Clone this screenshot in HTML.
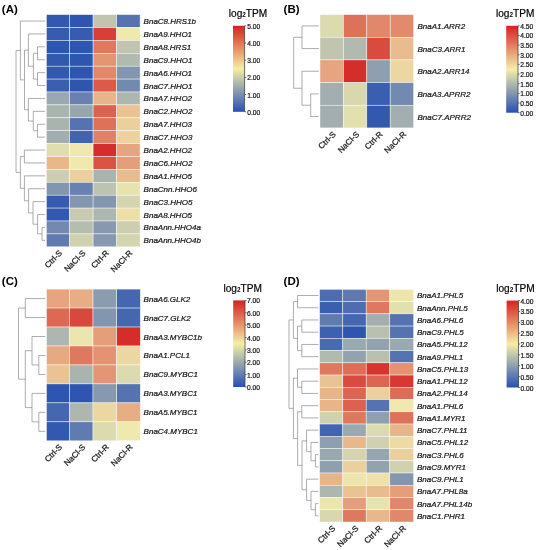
<!DOCTYPE html>
<html lang="en"><head><meta charset="utf-8"><title>Heatmaps</title>
<style>
html,body{margin:0;padding:0;background:#fff}
body{width:540px;height:550px;overflow:hidden}
svg{display:block;font-family:"Liberation Sans",sans-serif}
.tag{font-weight:bold;font-size:11.5px;fill:#000}
.rl text{font-style:italic;font-size:8px;fill:#111;stroke:#111;stroke-width:.2}
.xl text{font-size:8.2px;fill:#111;stroke:#111;stroke-width:.2}
.tk text{font-size:6.7px;fill:#111;stroke:#111;stroke-width:.2}
.ttl{font-size:10.1px;fill:#000;stroke:#000;stroke-width:.2}
.sub{font-size:6.4px;font-weight:bold;stroke:none}
.cells rect{stroke:#fff;stroke-opacity:.8;stroke-width:.55}
.dn{fill:none;stroke:#808080;stroke-width:.65}
.ax{fill:none;stroke:#333;stroke-width:.7}
</style></head><body>
<svg width="540" height="550" viewBox="0 0 540 550">
<defs>
<linearGradient id="gA" x1="0" y1="0" x2="0" y2="1"><stop offset="0" stop-color="#d62222"/><stop offset="0.5" stop-color="#f4eea6"/><stop offset="1" stop-color="#2650b6"/></linearGradient>
<linearGradient id="gB" x1="0" y1="0" x2="0" y2="1"><stop offset="0" stop-color="#d62222"/><stop offset="0.5" stop-color="#f4eea6"/><stop offset="1" stop-color="#2650b6"/></linearGradient>
<linearGradient id="gC" x1="0" y1="0" x2="0" y2="1"><stop offset="0" stop-color="#d62222"/><stop offset="0.5" stop-color="#f4eea6"/><stop offset="1" stop-color="#2650b6"/></linearGradient>
<linearGradient id="gD" x1="0" y1="0" x2="0" y2="1"><stop offset="0" stop-color="#d62222"/><stop offset="0.5" stop-color="#f4eea6"/><stop offset="1" stop-color="#2650b6"/></linearGradient>
</defs>
<rect width="540" height="550" fill="#fff"/>
<g id="panelA">
<text x="1.8" y="12.6" class="tag">(A)</text>
<g class="cells">
<rect x="46.40" y="14.60" width="23.20" height="12.90" fill="#3258b0"/>
<rect x="69.60" y="14.60" width="23.50" height="12.90" fill="#2e55b0"/>
<rect x="93.10" y="14.60" width="23.50" height="12.90" fill="#c1c5af"/>
<rect x="116.60" y="14.60" width="23.50" height="12.90" fill="#5573b0"/>
<rect x="46.40" y="27.50" width="23.20" height="12.90" fill="#365bb0"/>
<rect x="69.60" y="27.50" width="23.50" height="12.90" fill="#365bb0"/>
<rect x="93.10" y="27.50" width="23.50" height="12.90" fill="#d84037"/>
<rect x="116.60" y="27.50" width="23.50" height="12.90" fill="#efe9af"/>
<rect x="46.40" y="40.40" width="23.20" height="12.90" fill="#2e55b0"/>
<rect x="69.60" y="40.40" width="23.50" height="12.90" fill="#2e55b0"/>
<rect x="93.10" y="40.40" width="23.50" height="12.90" fill="#df785f"/>
<rect x="116.60" y="40.40" width="23.50" height="12.90" fill="#c1c5af"/>
<rect x="46.40" y="53.30" width="23.20" height="12.90" fill="#3258b0"/>
<rect x="69.60" y="53.30" width="23.50" height="12.90" fill="#2e55b0"/>
<rect x="93.10" y="53.30" width="23.50" height="12.90" fill="#e49674"/>
<rect x="116.60" y="53.30" width="23.50" height="12.90" fill="#b1baaf"/>
<rect x="46.40" y="66.20" width="23.20" height="12.90" fill="#3258b0"/>
<rect x="69.60" y="66.20" width="23.50" height="12.90" fill="#2e55b0"/>
<rect x="93.10" y="66.20" width="23.50" height="12.90" fill="#e1876a"/>
<rect x="116.60" y="66.20" width="23.50" height="12.90" fill="#8396b0"/>
<rect x="46.40" y="79.10" width="23.20" height="12.90" fill="#3a5eb0"/>
<rect x="69.60" y="79.10" width="23.50" height="12.90" fill="#2e55b0"/>
<rect x="93.10" y="79.10" width="23.50" height="12.90" fill="#db5a4a"/>
<rect x="116.60" y="79.10" width="23.50" height="12.90" fill="#738ab0"/>
<rect x="46.40" y="92.00" width="23.20" height="12.90" fill="#9aa8af"/>
<rect x="69.60" y="92.00" width="23.50" height="12.90" fill="#6881b0"/>
<rect x="93.10" y="92.00" width="23.50" height="12.90" fill="#e8b48a"/>
<rect x="116.60" y="92.00" width="23.50" height="12.90" fill="#adb7af"/>
<rect x="46.40" y="104.90" width="23.20" height="12.90" fill="#aab4af"/>
<rect x="69.60" y="104.90" width="23.50" height="12.90" fill="#96a5af"/>
<rect x="93.10" y="104.90" width="23.50" height="12.90" fill="#dc624f"/>
<rect x="116.60" y="104.90" width="23.50" height="12.90" fill="#eac394"/>
<rect x="46.40" y="117.80" width="23.20" height="12.90" fill="#aab4af"/>
<rect x="69.60" y="117.80" width="23.50" height="12.90" fill="#5573b0"/>
<rect x="93.10" y="117.80" width="23.50" height="12.90" fill="#de715a"/>
<rect x="116.60" y="117.80" width="23.50" height="12.90" fill="#ebcf9c"/>
<rect x="46.40" y="130.70" width="23.20" height="12.90" fill="#a2aeaf"/>
<rect x="69.60" y="130.70" width="23.50" height="12.90" fill="#4164b0"/>
<rect x="93.10" y="130.70" width="23.50" height="12.90" fill="#e08065"/>
<rect x="116.60" y="130.70" width="23.50" height="12.90" fill="#ecd29f"/>
<rect x="46.40" y="143.60" width="23.20" height="12.90" fill="#e0ddaf"/>
<rect x="69.60" y="143.60" width="23.50" height="12.90" fill="#efe9af"/>
<rect x="93.10" y="143.60" width="23.50" height="12.90" fill="#d52d2a"/>
<rect x="116.60" y="143.60" width="23.50" height="12.90" fill="#e6a57f"/>
<rect x="46.40" y="156.50" width="23.20" height="12.90" fill="#e8b88c"/>
<rect x="69.60" y="156.50" width="23.50" height="12.90" fill="#efe9af"/>
<rect x="93.10" y="156.50" width="23.50" height="12.90" fill="#da5345"/>
<rect x="116.60" y="156.50" width="23.50" height="12.90" fill="#e59e7a"/>
<rect x="46.40" y="169.40" width="23.20" height="12.90" fill="#ccceaf"/>
<rect x="69.60" y="169.40" width="23.50" height="12.90" fill="#ebcf9c"/>
<rect x="93.10" y="169.40" width="23.50" height="12.90" fill="#aab4af"/>
<rect x="116.60" y="169.40" width="23.50" height="12.90" fill="#e9bc8f"/>
<rect x="46.40" y="182.30" width="23.20" height="12.90" fill="#8396b0"/>
<rect x="69.60" y="182.30" width="23.50" height="12.90" fill="#6881b0"/>
<rect x="93.10" y="182.30" width="23.50" height="12.90" fill="#bdc3af"/>
<rect x="116.60" y="182.30" width="23.50" height="12.90" fill="#e7e3af"/>
<rect x="46.40" y="195.20" width="23.20" height="12.90" fill="#365bb0"/>
<rect x="69.60" y="195.20" width="23.50" height="12.90" fill="#8396b0"/>
<rect x="93.10" y="195.20" width="23.50" height="12.90" fill="#8396b0"/>
<rect x="116.60" y="195.20" width="23.50" height="12.90" fill="#d4d4af"/>
<rect x="46.40" y="208.10" width="23.20" height="12.90" fill="#3258b0"/>
<rect x="69.60" y="208.10" width="23.50" height="12.90" fill="#c8cbaf"/>
<rect x="93.10" y="208.10" width="23.50" height="12.90" fill="#adb7af"/>
<rect x="116.60" y="208.10" width="23.50" height="12.90" fill="#eddea7"/>
<rect x="46.40" y="221.00" width="23.20" height="12.90" fill="#738ab0"/>
<rect x="69.60" y="221.00" width="23.50" height="12.90" fill="#b5bdaf"/>
<rect x="93.10" y="221.00" width="23.50" height="12.90" fill="#8799b0"/>
<rect x="116.60" y="221.00" width="23.50" height="12.90" fill="#ccceaf"/>
<rect x="46.40" y="233.90" width="23.20" height="12.90" fill="#607bb0"/>
<rect x="69.60" y="233.90" width="23.50" height="12.90" fill="#d0d1af"/>
<rect x="93.10" y="233.90" width="23.50" height="12.90" fill="#8799b0"/>
<rect x="116.60" y="233.90" width="23.50" height="12.90" fill="#d4d4af"/>
</g>
<g class="rl">
<text x="143.6" y="24.05">BnaC8.HRS1b</text>
<text x="143.6" y="36.95">BnaA9.HHO1</text>
<text x="143.6" y="49.85">BnaA8.HRS1</text>
<text x="143.6" y="62.75">BnaC9.HHO1</text>
<text x="143.6" y="75.65">BnaA6.HHO1</text>
<text x="143.6" y="88.55">BnaC7.HHO1</text>
<text x="143.6" y="101.45">BnaA7.HHO2</text>
<text x="143.6" y="114.35">BnaC2.HHO2</text>
<text x="143.6" y="127.25">BnaA7.HHO3</text>
<text x="143.6" y="140.15">BnaC7.HHO3</text>
<text x="143.6" y="153.05">BnaA2.HHO2</text>
<text x="143.6" y="165.95">BnaC6.HHO2</text>
<text x="143.6" y="178.85">BnaA1.HHO5</text>
<text x="143.6" y="191.75">BnaCnn.HHO6</text>
<text x="143.6" y="204.65">BnaC3.HHO5</text>
<text x="143.6" y="217.55">BnaA8.HHO5</text>
<text x="143.6" y="230.45">BnaAnn.HHO4a</text>
<text x="143.6" y="243.35">BnaAnn.HHO4b</text>
</g>
<g class="xl">
<text transform="translate(58.80 249.80) rotate(-45)" x="0" y="5.5" text-anchor="end">Ctrl-S</text>
<text transform="translate(82.15 249.80) rotate(-45)" x="0" y="5.5" text-anchor="end">NaCl-S</text>
<text transform="translate(105.65 249.80) rotate(-45)" x="0" y="5.5" text-anchor="end">Ctrl-R</text>
<text transform="translate(129.15 249.80) rotate(-45)" x="0" y="5.5" text-anchor="end">NaCl-R</text>
</g>
<path class="dn" d="M45.10 46.85H37.50V59.75H45.10M45.10 72.65H37.50V85.55H45.10M37.50 53.30H33.40V79.10H37.50M45.10 33.95H28.40V66.20H33.40M45.10 124.25H37.50V137.15H45.10M45.10 111.35H33.30V130.70H37.50M45.10 98.45H28.40V121.02H33.30M28.40 50.07H24.50V109.74H28.40M45.10 21.05H20.40V79.91H24.50M45.10 150.05H24.40V162.95H45.10M45.10 227.45H42.00V240.35H45.10M45.10 214.55H37.60V233.90H42.00M45.10 201.65H33.00V224.22H37.60M45.10 188.75H28.60V212.94H33.00M45.10 175.85H24.40V200.84H28.60M24.40 156.50H20.40V188.35H24.40M20.40 50.48H16.00V172.42H20.40"/>
<rect x="233" y="25.8" width="11.60" height="86.00" fill="url(#gA)"/>
<g class="tk">
<text x="247.3" y="28.80">5.00</text>
<text x="247.3" y="46.00">4.00</text>
<text x="247.3" y="63.20">3.00</text>
<text x="247.3" y="80.40">2.00</text>
<text x="247.3" y="97.60">1.00</text>
<text x="247.3" y="114.80">0.00</text>
</g>
<path class="ax" d="M244.6 25.8V111.8M244.6 25.80h1.6M244.6 43.00h1.6M244.6 60.20h1.6M244.6 77.40h1.6M244.6 94.60h1.6M244.6 111.80h1.6"/>
<text class="ttl" x="228.8" y="16.7">log<tspan class="sub">2</tspan>TPM</text>
</g>
<g id="panelB">
<text x="283.6" y="12.5" class="tag">(B)</text>
<g class="cells">
<rect x="320.00" y="14.60" width="23.40" height="22.66" fill="#dcdaaf"/>
<rect x="343.40" y="14.60" width="23.40" height="22.66" fill="#de715a"/>
<rect x="366.80" y="14.60" width="23.40" height="22.66" fill="#e1876a"/>
<rect x="390.20" y="14.60" width="23.40" height="22.66" fill="#e28b6c"/>
<rect x="320.00" y="37.26" width="23.40" height="22.66" fill="#c1c5af"/>
<rect x="343.40" y="37.26" width="23.40" height="22.66" fill="#b1baaf"/>
<rect x="366.80" y="37.26" width="23.40" height="22.66" fill="#d94b3f"/>
<rect x="390.20" y="37.26" width="23.40" height="22.66" fill="#e9bc8f"/>
<rect x="320.00" y="59.92" width="23.40" height="22.66" fill="#e6a57f"/>
<rect x="343.40" y="59.92" width="23.40" height="22.66" fill="#d52d2a"/>
<rect x="366.80" y="59.92" width="23.40" height="22.66" fill="#8e9fb0"/>
<rect x="390.20" y="59.92" width="23.40" height="22.66" fill="#ecd6a2"/>
<rect x="320.00" y="82.58" width="23.40" height="22.66" fill="#a2aeaf"/>
<rect x="343.40" y="82.58" width="23.40" height="22.66" fill="#d8d7af"/>
<rect x="366.80" y="82.58" width="23.40" height="22.66" fill="#3a5eb0"/>
<rect x="390.20" y="82.58" width="23.40" height="22.66" fill="#738ab0"/>
<rect x="320.00" y="105.24" width="23.40" height="22.66" fill="#a2aeaf"/>
<rect x="343.40" y="105.24" width="23.40" height="22.66" fill="#e3e0af"/>
<rect x="366.80" y="105.24" width="23.40" height="22.66" fill="#3258b0"/>
<rect x="390.20" y="105.24" width="23.40" height="22.66" fill="#a2aeaf"/>
</g>
<g class="rl">
<text x="417.5" y="28.93">BnaA1.ARR2</text>
<text x="417.5" y="51.59">BnaC3.ARR1</text>
<text x="417.5" y="74.25">BnaA2.ARR14</text>
<text x="417.5" y="96.91">BnaA3.APRR2</text>
<text x="417.5" y="119.57">BnaC7.APRR2</text>
</g>
<g class="xl">
<text transform="translate(332.50 130.90) rotate(-45)" x="0" y="5.5" text-anchor="end">Ctrl-S</text>
<text transform="translate(355.90 130.90) rotate(-45)" x="0" y="5.5" text-anchor="end">NaCl-S</text>
<text transform="translate(379.30 130.90) rotate(-45)" x="0" y="5.5" text-anchor="end">Ctrl-R</text>
<text transform="translate(402.70 130.90) rotate(-45)" x="0" y="5.5" text-anchor="end">NaCl-R</text>
</g>
<path class="dn" d="M318.80 25.93H302.00V48.59H318.80M318.80 93.91H310.70V116.57H318.80M318.80 71.25H302.00V105.24H310.70M302.00 37.26H293.70V88.25H302.00"/>
<rect x="506.2" y="25.8" width="11.80" height="86.90" fill="url(#gB)"/>
<g class="tk">
<text x="520.2" y="28.80">4.50</text>
<text x="520.2" y="38.46">4.00</text>
<text x="520.2" y="48.11">3.50</text>
<text x="520.2" y="57.77">3.00</text>
<text x="520.2" y="67.42">2.50</text>
<text x="520.2" y="77.08">2.00</text>
<text x="520.2" y="86.73">1.50</text>
<text x="520.2" y="96.39">1.00</text>
<text x="520.2" y="106.04">0.50</text>
<text x="520.2" y="115.70">0.00</text>
</g>
<path class="ax" d="M518 25.8V112.7M518 25.80h1.6M518 35.46h1.6M518 45.11h1.6M518 54.77h1.6M518 64.42h1.6M518 74.08h1.6M518 83.73h1.6M518 93.39h1.6M518 103.04h1.6M518 112.70h1.6"/>
<text class="ttl" x="496" y="16.7">log<tspan class="sub">2</tspan>TPM</text>
</g>
<g id="panelC">
<text x="1.8" y="284.8" class="tag">(C)</text>
<g class="cells">
<rect x="46.50" y="289.10" width="23.00" height="18.96" fill="#e6a57f"/>
<rect x="69.50" y="289.10" width="23.50" height="18.96" fill="#e7ad84"/>
<rect x="93.00" y="289.10" width="23.70" height="18.96" fill="#8b9cb0"/>
<rect x="116.70" y="289.10" width="23.60" height="18.96" fill="#4567b0"/>
<rect x="46.50" y="308.06" width="23.00" height="18.96" fill="#dd6955"/>
<rect x="69.50" y="308.06" width="23.50" height="18.96" fill="#d9473d"/>
<rect x="93.00" y="308.06" width="23.70" height="18.96" fill="#8396b0"/>
<rect x="116.70" y="308.06" width="23.60" height="18.96" fill="#4567b0"/>
<rect x="46.50" y="327.03" width="23.00" height="18.96" fill="#adb7af"/>
<rect x="69.50" y="327.03" width="23.50" height="18.96" fill="#ebe6af"/>
<rect x="93.00" y="327.03" width="23.70" height="18.96" fill="#e59e7a"/>
<rect x="116.70" y="327.03" width="23.60" height="18.96" fill="#d52d2a"/>
<rect x="46.50" y="345.99" width="23.00" height="18.96" fill="#e6a982"/>
<rect x="69.50" y="345.99" width="23.50" height="18.96" fill="#df785f"/>
<rect x="93.00" y="345.99" width="23.70" height="18.96" fill="#e39372"/>
<rect x="116.70" y="345.99" width="23.60" height="18.96" fill="#ecd6a2"/>
<rect x="46.50" y="364.95" width="23.00" height="18.96" fill="#eac394"/>
<rect x="69.50" y="364.95" width="23.50" height="18.96" fill="#aab4af"/>
<rect x="93.00" y="364.95" width="23.70" height="18.96" fill="#e49674"/>
<rect x="116.70" y="364.95" width="23.60" height="18.96" fill="#dcdaaf"/>
<rect x="46.50" y="383.91" width="23.00" height="18.96" fill="#2e55b0"/>
<rect x="69.50" y="383.91" width="23.50" height="18.96" fill="#2e55b0"/>
<rect x="93.00" y="383.91" width="23.70" height="18.96" fill="#8799b0"/>
<rect x="116.70" y="383.91" width="23.60" height="18.96" fill="#5573b0"/>
<rect x="46.50" y="402.88" width="23.00" height="18.96" fill="#4567b0"/>
<rect x="69.50" y="402.88" width="23.50" height="18.96" fill="#adb7af"/>
<rect x="93.00" y="402.88" width="23.70" height="18.96" fill="#ecd6a2"/>
<rect x="116.70" y="402.88" width="23.60" height="18.96" fill="#e7ad84"/>
<rect x="46.50" y="421.84" width="23.00" height="18.96" fill="#3258b0"/>
<rect x="69.50" y="421.84" width="23.50" height="18.96" fill="#607bb0"/>
<rect x="93.00" y="421.84" width="23.70" height="18.96" fill="#dcdaaf"/>
<rect x="116.70" y="421.84" width="23.60" height="18.96" fill="#efe9af"/>
</g>
<g class="rl">
<text x="143.6" y="301.58">BnaA6.GLK2</text>
<text x="143.6" y="320.54">BnaC7.GLK2</text>
<text x="143.6" y="339.51">BnaA3.MYBC1b</text>
<text x="143.6" y="358.47">BnaA1.PCL1</text>
<text x="143.6" y="377.43">BnaC9.MYBC1</text>
<text x="143.6" y="396.39">BnaA3.MYBC1</text>
<text x="143.6" y="415.36">BnaA5.MYBC1</text>
<text x="143.6" y="434.32">BnaC4.MYBC1</text>
</g>
<g class="xl">
<text transform="translate(58.80 443.80) rotate(-45)" x="0" y="5.5" text-anchor="end">Ctrl-S</text>
<text transform="translate(82.05 443.80) rotate(-45)" x="0" y="5.5" text-anchor="end">NaCl-S</text>
<text transform="translate(105.65 443.80) rotate(-45)" x="0" y="5.5" text-anchor="end">Ctrl-R</text>
<text transform="translate(129.30 443.80) rotate(-45)" x="0" y="5.5" text-anchor="end">NaCl-R</text>
</g>
<path class="dn" d="M45.30 298.58H25.30V317.54H45.30M45.30 355.47H38.80V374.43H45.30M45.30 336.51H32.00V364.95H38.80M45.30 412.36H38.80V431.32H45.30M45.30 393.39H32.00V421.84H38.80M32.00 350.73H25.30V407.62H32.00M25.30 308.06H18.50V379.17H25.30"/>
<rect x="233.2" y="300.4" width="11.80" height="86.60" fill="url(#gC)"/>
<g class="tk">
<text x="247" y="303.40">7.00</text>
<text x="247" y="315.77">6.00</text>
<text x="247" y="328.14">5.00</text>
<text x="247" y="340.51">4.00</text>
<text x="247" y="352.89">3.00</text>
<text x="247" y="365.26">2.00</text>
<text x="247" y="377.63">1.00</text>
<text x="247" y="390.00">0.00</text>
</g>
<path class="ax" d="M245 300.4V387M245 300.40h1.6M245 312.77h1.6M245 325.14h1.6M245 337.51h1.6M245 349.89h1.6M245 362.26h1.6M245 374.63h1.6M245 387.00h1.6"/>
<text class="ttl" x="223.5" y="291.5">log<tspan class="sub">2</tspan>TPM</text>
</g>
<g id="panelD">
<text x="283.6" y="284.8" class="tag">(D)</text>
<g class="cells">
<rect x="319.60" y="289.35" width="23.20" height="12.24" fill="#4d6db0"/>
<rect x="342.80" y="289.35" width="23.40" height="12.24" fill="#5c79b0"/>
<rect x="366.20" y="289.35" width="23.60" height="12.24" fill="#e49674"/>
<rect x="389.80" y="289.35" width="23.80" height="12.24" fill="#eee5ac"/>
<rect x="319.60" y="301.59" width="23.20" height="12.24" fill="#3a5eb0"/>
<rect x="342.80" y="301.59" width="23.40" height="12.24" fill="#4d6db0"/>
<rect x="366.20" y="301.59" width="23.60" height="12.24" fill="#df785f"/>
<rect x="389.80" y="301.59" width="23.80" height="12.24" fill="#e3e0af"/>
<rect x="319.60" y="313.84" width="23.20" height="12.24" fill="#607bb0"/>
<rect x="342.80" y="313.84" width="23.40" height="12.24" fill="#4567b0"/>
<rect x="366.20" y="313.84" width="23.60" height="12.24" fill="#a2aeaf"/>
<rect x="389.80" y="313.84" width="23.80" height="12.24" fill="#5573b0"/>
<rect x="319.60" y="326.08" width="23.20" height="12.24" fill="#3d61b0"/>
<rect x="342.80" y="326.08" width="23.40" height="12.24" fill="#2e55b0"/>
<rect x="366.20" y="326.08" width="23.60" height="12.24" fill="#b9c0af"/>
<rect x="389.80" y="326.08" width="23.80" height="12.24" fill="#5573b0"/>
<rect x="319.60" y="338.33" width="23.20" height="12.24" fill="#496ab0"/>
<rect x="342.80" y="338.33" width="23.40" height="12.24" fill="#9aa8af"/>
<rect x="366.20" y="338.33" width="23.60" height="12.24" fill="#92a2af"/>
<rect x="389.80" y="338.33" width="23.80" height="12.24" fill="#9aa8af"/>
<rect x="319.60" y="350.57" width="23.20" height="12.24" fill="#b1baaf"/>
<rect x="342.80" y="350.57" width="23.40" height="12.24" fill="#92a2af"/>
<rect x="366.20" y="350.57" width="23.60" height="12.24" fill="#b9c0af"/>
<rect x="389.80" y="350.57" width="23.80" height="12.24" fill="#5573b0"/>
<rect x="319.60" y="362.82" width="23.20" height="12.24" fill="#df785f"/>
<rect x="342.80" y="362.82" width="23.40" height="12.24" fill="#de6d57"/>
<rect x="366.20" y="362.82" width="23.60" height="12.24" fill="#d6352f"/>
<rect x="389.80" y="362.82" width="23.80" height="12.24" fill="#e39372"/>
<rect x="319.60" y="375.06" width="23.20" height="12.24" fill="#eac394"/>
<rect x="342.80" y="375.06" width="23.40" height="12.24" fill="#d94b3f"/>
<rect x="366.20" y="375.06" width="23.60" height="12.24" fill="#dd6552"/>
<rect x="389.80" y="375.06" width="23.80" height="12.24" fill="#d73832"/>
<rect x="319.60" y="387.31" width="23.20" height="12.24" fill="#e8b48a"/>
<rect x="342.80" y="387.31" width="23.40" height="12.24" fill="#dd6552"/>
<rect x="366.20" y="387.31" width="23.60" height="12.24" fill="#ebcf9c"/>
<rect x="389.80" y="387.31" width="23.80" height="12.24" fill="#de6d57"/>
<rect x="319.60" y="399.55" width="23.20" height="12.24" fill="#e8b48a"/>
<rect x="342.80" y="399.55" width="23.40" height="12.24" fill="#dc624f"/>
<rect x="366.20" y="399.55" width="23.60" height="12.24" fill="#5573b0"/>
<rect x="389.80" y="399.55" width="23.80" height="12.24" fill="#efe9af"/>
<rect x="319.60" y="411.80" width="23.20" height="12.24" fill="#d0d1af"/>
<rect x="342.80" y="411.80" width="23.40" height="12.24" fill="#df785f"/>
<rect x="366.20" y="411.80" width="23.60" height="12.24" fill="#8e9fb0"/>
<rect x="389.80" y="411.80" width="23.80" height="12.24" fill="#de715a"/>
<rect x="319.60" y="424.04" width="23.20" height="12.24" fill="#4164b0"/>
<rect x="342.80" y="424.04" width="23.40" height="12.24" fill="#9aa8af"/>
<rect x="366.20" y="424.04" width="23.60" height="12.24" fill="#dcdaaf"/>
<rect x="389.80" y="424.04" width="23.80" height="12.24" fill="#e8b48a"/>
<rect x="319.60" y="436.29" width="23.20" height="12.24" fill="#8e9fb0"/>
<rect x="342.80" y="436.29" width="23.40" height="12.24" fill="#e8b88c"/>
<rect x="366.20" y="436.29" width="23.60" height="12.24" fill="#d0d1af"/>
<rect x="389.80" y="436.29" width="23.80" height="12.24" fill="#eddaa4"/>
<rect x="319.60" y="448.53" width="23.20" height="12.24" fill="#9aa8af"/>
<rect x="342.80" y="448.53" width="23.40" height="12.24" fill="#d4d4af"/>
<rect x="366.20" y="448.53" width="23.60" height="12.24" fill="#96a5af"/>
<rect x="389.80" y="448.53" width="23.80" height="12.24" fill="#ebcf9c"/>
<rect x="319.60" y="460.78" width="23.20" height="12.24" fill="#8e9fb0"/>
<rect x="342.80" y="460.78" width="23.40" height="12.24" fill="#ebcf9c"/>
<rect x="366.20" y="460.78" width="23.60" height="12.24" fill="#92a2af"/>
<rect x="389.80" y="460.78" width="23.80" height="12.24" fill="#d0d1af"/>
<rect x="319.60" y="473.02" width="23.20" height="12.24" fill="#e8b48a"/>
<rect x="342.80" y="473.02" width="23.40" height="12.24" fill="#eee5ac"/>
<rect x="366.20" y="473.02" width="23.60" height="12.24" fill="#eee1aa"/>
<rect x="389.80" y="473.02" width="23.80" height="12.24" fill="#8396b0"/>
<rect x="319.60" y="485.27" width="23.20" height="12.24" fill="#adb7af"/>
<rect x="342.80" y="485.27" width="23.40" height="12.24" fill="#eac394"/>
<rect x="366.20" y="485.27" width="23.60" height="12.24" fill="#e9bc8f"/>
<rect x="389.80" y="485.27" width="23.80" height="12.24" fill="#e59e7a"/>
<rect x="319.60" y="497.51" width="23.20" height="12.24" fill="#ebe6af"/>
<rect x="342.80" y="497.51" width="23.40" height="12.24" fill="#e59e7a"/>
<rect x="366.20" y="497.51" width="23.60" height="12.24" fill="#e7e3af"/>
<rect x="389.80" y="497.51" width="23.80" height="12.24" fill="#e1876a"/>
<rect x="319.60" y="509.76" width="23.20" height="12.24" fill="#d8d7af"/>
<rect x="342.80" y="509.76" width="23.40" height="12.24" fill="#df785f"/>
<rect x="366.20" y="509.76" width="23.60" height="12.24" fill="#e8b88c"/>
<rect x="389.80" y="509.76" width="23.80" height="12.24" fill="#e1876a"/>
</g>
<g class="rl">
<text x="417" y="298.47">BnaA1.PHL5</text>
<text x="417" y="310.72">BnaAnn.PHL5</text>
<text x="417" y="322.96">BnaA6.PHL6</text>
<text x="417" y="335.21">BnaC9.PHL5</text>
<text x="417" y="347.45">BnaA5.PHL12</text>
<text x="417" y="359.70">BnaA9.PHL1</text>
<text x="417" y="371.94">BnaC5.PHL13</text>
<text x="417" y="384.19">BnaA1.PHL12</text>
<text x="417" y="396.43">BnaA2.PHL14</text>
<text x="417" y="408.68">BnaA1.PHL6</text>
<text x="417" y="420.92">BnaA1.MYR1</text>
<text x="417" y="433.16">BnaC7.PHL11</text>
<text x="417" y="445.41">BnaC5.PHL12</text>
<text x="417" y="457.65">BnaC3.PHL6</text>
<text x="417" y="469.90">BnaC9.MYR1</text>
<text x="417" y="482.14">BnaC9.PHL1</text>
<text x="417" y="494.39">BnaA7.PHL8a</text>
<text x="417" y="506.63">BnaA7.PHL14b</text>
<text x="417" y="518.88">BnaC1.PHR1</text>
</g>
<g class="xl">
<text transform="translate(332.00 525.00) rotate(-45)" x="0" y="5.5" text-anchor="end">Ctrl-S</text>
<text transform="translate(355.30 525.00) rotate(-45)" x="0" y="5.5" text-anchor="end">NaCl-S</text>
<text transform="translate(378.80 525.00) rotate(-45)" x="0" y="5.5" text-anchor="end">Ctrl-R</text>
<text transform="translate(402.50 525.00) rotate(-45)" x="0" y="5.5" text-anchor="end">NaCl-R</text>
</g>
<path class="dn" d="M318.40 295.47H297.50V307.72H318.40M318.40 319.96H301.80V332.21H318.40M318.40 344.45H301.80V356.70H318.40M301.80 326.08H297.50V350.57H301.80M297.50 301.59H293.40V338.33H297.50M318.40 381.19H301.80V393.43H318.40M318.40 368.94H297.50V387.31H301.80M318.40 405.68H301.80V417.92H318.40M318.40 454.65H315.40V466.90H318.40M318.40 442.41H311.00V460.78H315.40M318.40 430.16H306.60V451.59H311.00M318.40 503.63H315.40V515.88H318.40M318.40 491.39H311.00V509.76H315.40M318.40 479.14H306.60V500.57H311.00M306.60 440.88H302.00V489.86H306.60M301.80 411.80H297.60V465.37H302.00M297.50 378.12H293.40V438.58H297.60M293.40 319.96H289.00V408.35H293.40"/>
<rect x="506.6" y="300.6" width="11.90" height="86.90" fill="url(#gD)"/>
<g class="tk">
<text x="520.4" y="303.60">4.00</text>
<text x="520.4" y="314.46">3.50</text>
<text x="520.4" y="325.33">3.00</text>
<text x="520.4" y="336.19">2.50</text>
<text x="520.4" y="347.05">2.00</text>
<text x="520.4" y="357.91">1.50</text>
<text x="520.4" y="368.77">1.00</text>
<text x="520.4" y="379.64">0.50</text>
<text x="520.4" y="390.50">0.00</text>
</g>
<path class="ax" d="M518.5 300.6V387.5M518.5 300.60h1.6M518.5 311.46h1.6M518.5 322.33h1.6M518.5 333.19h1.6M518.5 344.05h1.6M518.5 354.91h1.6M518.5 365.77h1.6M518.5 376.64h1.6M518.5 387.50h1.6"/>
<text class="ttl" x="496.2" y="291.5">log<tspan class="sub">2</tspan>TPM</text>
</g>
</svg>
</body></html>
